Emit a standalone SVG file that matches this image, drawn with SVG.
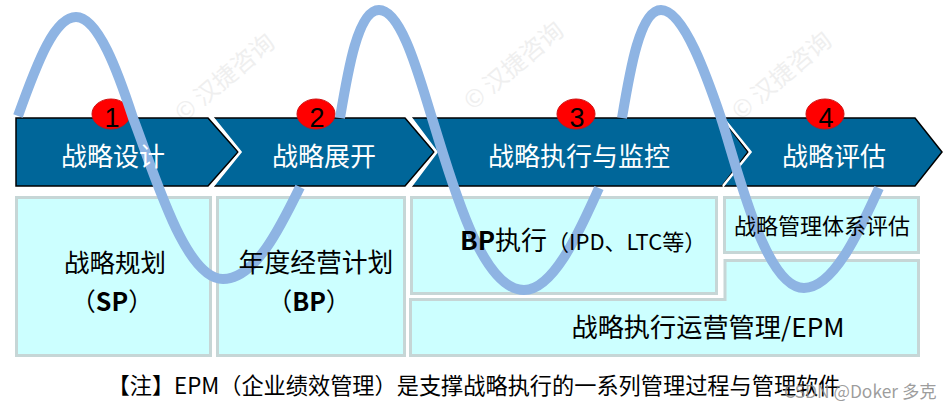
<svg xmlns="http://www.w3.org/2000/svg" width="952" height="410" viewBox="0 0 952 410">
<style>
text{font-family:"Noto Sans CJK SC","Noto Sans",sans-serif}
.chev{fill:#006699;stroke:none}
.edge{fill:none;stroke:#000;stroke-width:1.500}
.notch{fill:none;stroke:#fff;stroke-width:2.500}
.box{fill:#CCFFFF;stroke:#C6D6D6;stroke-width:3}
.wave{fill:none;stroke:#8EB4E3;stroke-width:10}
.dot{fill:#FF0000;stroke:#D01010;stroke-width:1}
.w{fill:#fff;font-size:26px;text-anchor:middle}
.k{fill:#000;text-anchor:middle}
.n{fill:#000;font-size:27px;text-anchor:middle;font-family:"Liberation Sans",sans-serif}
.wm{fill:#EFEFEF;font-size:24px;text-anchor:middle}
</style>
<rect width="952" height="410" fill="#fff"/>
<g id="watermarks">
<text class="wm" transform="translate(230,84) rotate(-40)">© 汉捷咨询</text>
<text class="wm" transform="translate(519,72) rotate(-40)">© 汉捷咨询</text>
<text class="wm" transform="translate(787,82) rotate(-40)">© 汉捷咨询</text>
</g>
<g id="step1"><polygon class="chev" points="16,118 208,118 238,152 208,186 16,186"/><path class="edge" d="M208 118H16V186H208L238 152Z"/><ellipse class="dot" cx="111" cy="114" rx="19" ry="15"/></g>
<g id="step2"><polygon class="chev" points="214,118 405,118 434,152 405,186 214,186 241,152"/><path class="edge" d="M214 118H405L434 152L405 186H214"/><path class="notch" d="M213 118L240.500 152L213 186"/><ellipse class="dot" cx="316" cy="114" rx="19" ry="15"/></g>
<g id="step3"><polygon class="chev" points="412,118 722,118 748,152 722,186 412,186 437,152"/><path class="edge" d="M412 118H722L748 152L722 186H412"/><path class="notch" d="M411 118L436.500 152L411 186"/><ellipse class="dot" cx="576" cy="114" rx="19" ry="15"/></g>
<g id="step4"><polygon class="chev" points="724,118 915,118 942,152 915,186 724,186 751,152"/><path class="edge" d="M724 118H915L942 152L915 186H724"/><path class="notch" d="M723 118L750.500 152L723 186"/><ellipse class="dot" cx="825" cy="114" rx="19" ry="15"/></g>
<g id="boxes">
<rect id="box-sp" class="box" x="16.500" y="197.500" width="194" height="158"/>
<rect id="box-bp" class="box" x="217.500" y="197.500" width="187" height="158"/>
<rect id="box-exec" class="box" x="411.500" y="197.500" width="305" height="96"/>
<rect id="box-eval" class="box" x="724.500" y="197.500" width="194" height="55"/>
<path id="box-epm" class="box" d="M410.500 299.500H725V260.500H918.500V355.500H410.500Z"/>
</g>
<g id="connectors">
<path class="wave" d="M18 116C38 60 55 17 76 17C98 17 118 72 133 118C155 175 185 279 223 279C255 279 280 228 300 187"/>
<path class="wave" d="M340 118C348 70 358 10 379 10C402 10 420 80 432 118C450 175 480 290 524 290C555 290 582 225 599 188"/>
<path class="wave" d="M622 118C630 70 640 10 661 10C684 10 708 80 721 118C738 170 765 288 804 288C835 288 862 225 879 188"/>
</g>
<g id="labels">
<text class="n" x="112" y="127">1</text>
<text class="n" x="317" y="127">2</text>
<text class="n" x="577" y="127">3</text>
<text class="n" x="826" y="127">4</text>
<text class="w" x="113" y="166">战略设计</text>
<text class="w" x="324" y="166">战略展开</text>
<text class="w" x="579" y="166">战略执行与监控</text>
<text class="w" x="834" y="166">战略评估</text>
<text class="k" x="115" y="272" font-size="25.500">战略规划</text>
<text class="k" x="112" y="311" font-size="25"><tspan>（</tspan><tspan font-weight="700">SP</tspan><tspan>）</tspan></text>
<text class="k" x="309" y="311" font-size="25"><tspan>（</tspan><tspan font-weight="700">BP</tspan><tspan>）</tspan></text>
<text class="k" x="316" y="272" font-size="25.800">年度经营计划</text>
<text x="460" y="250" font-size="26"><tspan font-weight="700">BP</tspan><tspan>执行</tspan><tspan font-size="22">（IPD、LTC等）</tspan></text>
<text class="k" x="822" y="234" font-size="22">战略管理体系评估</text>
<text class="k" x="708" y="337" font-size="26.200">战略执行运营管理/EPM</text>
<text class="k" x="474" y="394" font-size="22.200">【注】EPM（企业绩效管理）是支撑战略执行的一系列管理过程与管理软件</text>
<text x="784" y="398" font-size="17.400" fill="#8c8c8c" fill-opacity=".85">CSDN @Doker 多克</text>
</g>
</svg>
